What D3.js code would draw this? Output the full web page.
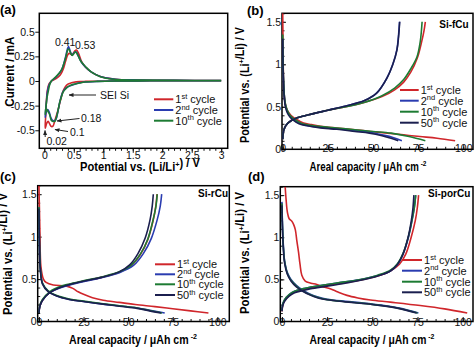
<!DOCTYPE html>
<html>
<head>
<meta charset="utf-8">
<script src="https://cdn.jsdelivr.net/npm/d3@7"></script>
<style>
body { margin: 0; background: #fff; }
svg text { font-family: "Liberation Sans", Arial, sans-serif; }
</style>
</head>
<body>
<div id="chart"></div>
<script>
// ---- data ----
var cvNums = ["1", "2", "10"];
var cvSups = ["st", "nd", "th"];
var gcdNums = ["1", "2", "10", "50"];
var gcdSups = ["st", "nd", "th", "th"];

// (a) CV, [potential V, current mA], in sweep order (cathodic then anodic)
var cv1st = [[3,0.004],[2.4,0.003],[1.8,0.002],[1.2,0.0],[0.9,-0.002],[0.7,-0.004],[0.6,-0.006],[0.5,-0.012],[0.45,-0.02],[0.4,-0.032],[0.36,-0.055],[0.32,-0.1],[0.29,-0.16],[0.26,-0.23],[0.23,-0.3],[0.2,-0.36],[0.17,-0.42],[0.15,-0.455],[0.12,-0.462],[0.09,-0.435],[0.065,-0.41],[0.04,-0.43],[0.015,-0.48],
  [0.022,-0.37],[0.035,-0.21],[0.05,-0.1],[0.08,-0.03],[0.12,0.0],[0.2,0.025],[0.27,0.06],[0.32,0.12],[0.36,0.2],[0.4,0.27],[0.43,0.28],[0.47,0.265],[0.51,0.3],[0.545,0.315],[0.58,0.28],[0.63,0.2],[0.7,0.14],[0.8,0.09],[0.95,0.045],[1.2,0.018],[1.6,0.01],[2.2,0.006],[3,0.005]];
var cv2nd = [[3,0.004],[2.4,0.003],[1.8,0.002],[1.2,0.0],[0.9,-0.004],[0.7,-0.01],[0.6,-0.018],[0.5,-0.035],[0.45,-0.045],[0.4,-0.06],[0.36,-0.075],[0.32,-0.105],[0.29,-0.15],[0.26,-0.22],[0.24,-0.28],[0.22,-0.34],[0.2,-0.385],[0.17,-0.405],[0.14,-0.4],[0.11,-0.37],[0.08,-0.31],[0.055,-0.29],[0.035,-0.31],[0.015,-0.37],
  [0.022,-0.3],[0.035,-0.22],[0.05,-0.12],[0.07,-0.06],[0.09,-0.03],[0.12,0.0],[0.2,0.04],[0.29,0.11],[0.35,0.22],[0.39,0.32],[0.41,0.35],[0.44,0.3],[0.47,0.265],[0.51,0.29],[0.54,0.295],[0.58,0.25],[0.63,0.19],[0.7,0.14],[0.8,0.09],[0.95,0.045],[1.2,0.018],[1.6,0.01],[2.2,0.006],[3,0.005]];
var cv10th = [[3,0.004],[2.4,0.003],[1.8,0.002],[1.2,0.0],[0.9,-0.004],[0.69,-0.01],[0.6,-0.02],[0.5,-0.033],[0.46,-0.04],[0.4,-0.058],[0.37,-0.075],[0.32,-0.11],[0.29,-0.16],[0.26,-0.22],[0.24,-0.28],[0.22,-0.335],[0.2,-0.38],[0.18,-0.41],[0.15,-0.41],[0.12,-0.4],[0.09,-0.34],[0.063,-0.31],[0.045,-0.29],[0.03,-0.3],[0.015,-0.34],
  [0.025,-0.28],[0.034,-0.23],[0.045,-0.17],[0.06,-0.125],[0.075,-0.08],[0.09,-0.04],[0.12,0.0],[0.2,0.045],[0.29,0.11],[0.35,0.21],[0.38,0.28],[0.405,0.325],[0.42,0.32],[0.445,0.285],[0.475,0.26],[0.51,0.285],[0.535,0.295],[0.57,0.26],[0.62,0.2],[0.7,0.145],[0.8,0.09],[0.95,0.044],[1.17,0.017],[1.6,0.01],[2.2,0.006],[3,0.005]];

// (b) Si-fCu, [capacity uAh cm-2, potential V]
var fCu1Dis = [[0,1.6],[0.2,1.2],[0.4,0.85],[0.8,0.65],[1.5,0.53],[2.5,0.46],[4.5,0.4],[7,0.36],[11.5,0.31],[16,0.29],[21,0.27],[30,0.25],[40,0.23],[48.5,0.21],[58,0.19],[67,0.17],[76,0.15],[85.5,0.13],[95.5,0.1]];
var fCu2Dis = [[0,1.3],[0.3,0.9],[0.8,0.65],[1.5,0.52],[2.5,0.45],[4,0.39],[6,0.35],[9,0.31],[13,0.28],[20,0.26],[30,0.24],[40,0.22],[48,0.2],[55,0.17],[61,0.14],[66,0.1]];
var fCu10Dis = [[0,1.35],[0.3,0.92],[0.8,0.66],[1.5,0.53],[2.5,0.46],[4,0.4],[6,0.36],[9,0.32],[13,0.29],[20,0.27],[30,0.25],[40,0.23],[50,0.21],[60,0.19],[70,0.15],[79,0.1]];
var fCu50Dis = [[0,1.3],[0.3,0.85],[0.8,0.62],[1.5,0.5],[2.5,0.43],[4,0.38],[6,0.34],[9,0.3],[13,0.28],[20,0.255],[30,0.235],[40,0.21],[48,0.19],[55,0.16],[60,0.13],[64,0.1]];
var fCu1Ch = [[0,0.12],[0.3,0.2],[1,0.25],[3,0.31],[8,0.37],[17,0.42],[25,0.46],[35,0.5],[45,0.55],[55,0.62],[62,0.7],[67,0.79],[71,0.91],[74.5,1.07],[77,1.27],[78.3,1.4],[79,1.5]];
var fCu2Ch = [[0,0.12],[0.3,0.2],[1,0.25],[3,0.31],[8,0.37],[17,0.42],[25,0.46],[35,0.51],[45,0.57],[52,0.66],[57.5,0.83],[61,1.0],[63.2,1.17],[64.1,1.33],[64.7,1.5]];
var fCu10Ch = [[0,0.12],[0.3,0.2],[1,0.25],[3,0.31],[8,0.37],[17,0.42],[25,0.46],[35,0.5],[45,0.55],[55,0.63],[62,0.72],[67,0.82],[71,0.95],[74.4,1.09],[76.2,1.27],[77.2,1.5]];
var fCu50Ch = [[0,0.12],[0.3,0.2],[1,0.25],[3,0.31],[8,0.37],[17,0.42],[25,0.46],[35,0.51],[45,0.57],[52,0.66],[57.8,0.84],[61,1.0],[63.3,1.17],[64.2,1.33],[64.8,1.5]];

// (c) Si-rCu
var rCu1Dis = [[0,1.6],[0.3,1.3],[0.6,1.0],[1.1,0.65],[2.5,0.5],[4,0.46],[8,0.43],[15,0.42],[19,0.39],[22,0.35],[25,0.32],[30,0.28],[36,0.25],[45,0.225],[54,0.2],[65,0.175],[75,0.15],[85,0.125],[95,0.1]];
var rCu2Dis = [[0,1.35],[0.3,0.9],[0.8,0.62],[2,0.45],[5,0.36],[10,0.3],[17,0.26],[25,0.235],[36,0.205],[45,0.185],[55,0.16],[63,0.13],[70.5,0.1]];
var rCu10Dis = [[0,1.35],[0.3,0.9],[0.8,0.62],[2,0.45],[5,0.365],[10,0.305],[17,0.265],[25,0.24],[36,0.21],[45,0.185],[55,0.16],[62,0.13],[69,0.1]];
var rCu50Dis = [[0,1.33],[0.3,0.88],[0.8,0.6],[2,0.44],[5,0.355],[10,0.3],[17,0.26],[25,0.235],[36,0.205],[45,0.18],[55,0.155],[62,0.125],[68.5,0.1]];
var rCu1Ch = [[0,0.1],[0.5,0.18],[2,0.25],[6,0.34],[13,0.41],[20,0.45],[26,0.48],[35,0.52],[45,0.58],[52,0.665],[57,0.795],[61,0.965],[64,1.19],[65.5,1.36],[66.2,1.5]];
var rCu2Ch = [[0,0.1],[0.5,0.18],[2,0.25],[6,0.34],[13,0.405],[20,0.445],[26,0.475],[35,0.515],[45,0.575],[53,0.66],[58.5,0.8],[63,0.98],[66.3,1.2],[68,1.36],[68.8,1.5]];
var rCu10Ch = [[0,0.1],[0.5,0.19],[2,0.26],[6,0.35],[13,0.42],[20,0.455],[26,0.485],[35,0.525],[45,0.585],[52,0.67],[57,0.8],[61,0.97],[64,1.2],[65.6,1.36],[66.3,1.5]];
var rCu50Ch = [[0,0.1],[0.5,0.18],[2,0.25],[6,0.34],[13,0.41],[20,0.45],[26,0.48],[35,0.52],[45,0.585],[51,0.67],[55.5,0.8],[59.5,0.98],[62.3,1.2],[63.5,1.36],[64.1,1.5]];

// (d) Si-porCu
var porCu1Dis = [[1.8,1.6],[2.3,1.45],[3,1.3],[4,1.22],[5.5,1.19],[6.5,1.15],[7.4,1.09],[8.3,0.95],[9.2,0.82],[10,0.68],[11,0.55],[12.9,0.48],[16,0.455],[19.3,0.44],[23,0.41],[26.7,0.39],[31,0.35],[36,0.31],[42,0.28],[49,0.255],[60,0.23],[76.5,0.19],[90,0.15],[102.5,0.1]];
var porCu2Dis = [[0,1.42],[0.3,1.15],[0.8,0.9],[1.5,0.72],[3,0.58],[5,0.5],[8,0.43],[11,0.38],[16,0.32],[20,0.29],[25,0.265],[35,0.24],[45,0.22],[55,0.195],[65,0.16],[75.5,0.1]];
var porCu10Dis = [[0,1.4],[0.3,1.13],[0.8,0.88],[1.5,0.71],[3,0.57],[5,0.49],[8,0.42],[11,0.37],[16,0.315],[20,0.285],[25,0.26],[35,0.235],[45,0.215],[55,0.19],[65,0.155],[75,0.1]];
var porCu50Dis = [[0,1.38],[0.3,1.1],[0.8,0.86],[1.5,0.69],[3,0.56],[5,0.48],[8,0.41],[11,0.365],[16,0.31],[20,0.28],[25,0.258],[35,0.233],[45,0.213],[55,0.188],[65,0.153],[74.5,0.1]];
var porCu1Ch = [[0,0.12],[0.5,0.2],[1.5,0.25],[4,0.31],[7,0.35],[12,0.38],[16,0.4],[25,0.43],[35,0.46],[45,0.5],[53,0.54],[60,0.6],[65,0.68],[68.5,0.8],[71.5,1.0],[73.8,1.2],[74.9,1.35],[75.6,1.5]];
var porCu2Ch = [[0,0.13],[0.5,0.21],[1.5,0.26],[4,0.32],[7,0.36],[12,0.39],[16,0.41],[25,0.44],[35,0.47],[45,0.505],[53,0.545],[60,0.6],[64,0.68],[67,0.8],[70,1.0],[72,1.2],[73.2,1.35],[74,1.5]];
var porCu10Ch = [[0,0.13],[0.5,0.21],[1.5,0.26],[4,0.32],[7,0.36],[12,0.39],[16,0.41],[25,0.44],[35,0.47],[45,0.505],[53,0.55],[60,0.61],[64,0.69],[67,0.81],[70,1.01],[72,1.21],[73.3,1.36],[74,1.5]];
var porCu50Ch = [[0,0.12],[0.5,0.19],[1.5,0.24],[4,0.3],[7,0.34],[12,0.37],[16,0.39],[25,0.42],[35,0.455],[45,0.495],[53,0.54],[60,0.6],[64,0.68],[67,0.8],[69.8,1.0],[71.6,1.2],[72.5,1.35],[73,1.5]];

var cvTicksX = [0, 0.5, 1, 1.5, 2, 2.5, 3];
var cvTicksY = [-0.5, -0.25, 0, 0.25, 0.5];
var capTicks = [0, 25, 50, 75, 100];
var potTicks = [0, 0.5, 1, 1.5];

var colors = ["#d0262b", "#2a3cb0", "#1d7b33", "#1b1f4f"];

// ---- drawing ----
var svg = d3.select("#chart")
    .append("svg")
    .attr("width", 474)
    .attr("height", 349)

svg.append("defs").append("marker")
    .attr("id", "arrow")
    .attr("viewBox", "0 0 10 10")
    .attr("refX", 9).attr("refY", 5)
    .attr("markerWidth", 5).attr("markerHeight", 5)
    .attr("orient", "auto")
    .append("path")
    .attr("d", "M0,1 L10,5 L0,9 z")
    .attr("fill", "#222")

var fmt = function(d) { return String(d); }

function panel(p) {
    var x = d3.scaleLinear().domain(p.xd).range([p.left, p.right]);
    var y = d3.scaleLinear().domain(p.yd).range([p.bottom, p.top]);
    var g = svg.append("g");

    g.append("clipPath").attr("id", p.id)
        .append("rect")
        .attr("x", p.left).attr("y", p.top)
        .attr("width", p.right - p.left).attr("height", p.bottom - p.top);

    var s = p.inward ? -1 : 1;
    // minor ticks
    g.append("g")
        .attr("transform", "translate(0," + p.bottom + ")")
        .call(d3.axisBottom(x).tickValues(p.xMinor).tickSize(2.5 * s).tickFormat(""))
        .call(function(a) { a.select(".domain").remove(); });
    if (p.yMinor) {
        g.append("g")
            .attr("transform", "translate(" + p.left + ",0)")
            .call(d3.axisLeft(y).tickValues(p.yMinor).tickSize(2.5 * s).tickFormat(""))
            .call(function(a) { a.select(".domain").remove(); });
    }
    // major ticks + labels
    var xa = g.append("g")
        .attr("transform", "translate(0," + p.bottom + ")")
        .call(d3.axisBottom(x).tickValues(p.xTicks).tickSize(4.5 * s).tickPadding(p.xPad).tickFormat(fmt));
    var ya = g.append("g")
        .attr("transform", "translate(" + p.left + ",0)")
        .call(d3.axisLeft(y).tickValues(p.yTicks).tickSize(4 * s).tickPadding(p.yPad).tickFormat(fmt));
    [xa, ya].forEach(function(a) {
        a.select(".domain").remove();
        a.attr("font-family", null).attr("font-size", null);
        a.selectAll("text").style("font-size", "10.5px").attr("fill", "#111");
    });
    g.selectAll(".tick line").attr("stroke", "#111");

    g.append("rect")
        .attr("x", p.left).attr("y", p.top)
        .attr("width", p.right - p.left).attr("height", p.bottom - p.top)
        .attr("fill", "none").attr("stroke", "#000").attr("stroke-width", 1.5);

    var curves = g.append("g").attr("clip-path", "url(#" + p.id + ")");
    var line = d3.line()
        .x(function(d) { return x(d[0]); })
        .y(function(d) { return y(d[1]); })
        .curve(d3.curveCatmullRom.alpha(0.5));
    p.series.forEach(function(s) {
        curves.append("path")
            .datum(s.data)
            .attr("d", line)
            .attr("fill", "none")
            .attr("stroke", s.color)
            .attr("stroke-width", 1.6);
    });
    return { g: g, x: x, y: y };
}

function title(cx, cy, rot, parts, w) {
    var t = svg.append("g")
        .attr("transform", "translate(" + cx + "," + cy + ") rotate(" + rot + ")")
        .append("text")
        .attr("text-anchor", "middle")
        .attr("dy", "0.35em")
        .style("font-size", "12px")
        .style("font-weight", "bold");
    parts.forEach(function(p) {
        if (p[1]) {
            t.append("tspan").attr("dy", -4.5).style("font-size", "8px").text(p[0]);
            t.append("tspan").attr("dy", 4.5).text("");
        } else {
            t.append("tspan").text(p[0]);
        }
    });
    var len = t.node().getComputedTextLength();
    if (w && len > 0) t.attr("transform", "scale(" + (w / len) + ",1)");
}

function legend(xa, xb, ys, nums, sups, cols) {
    ys.forEach(function(yy, i) {
        svg.append("line")
            .attr("x1", xa).attr("x2", xb).attr("y1", yy).attr("y2", yy)
            .attr("stroke", cols[i]).attr("stroke-width", 2);
        var t = svg.append("text").attr("x", xb + 2).attr("y", yy + 4).style("font-size", "11px").attr("fill", "#111");
        t.append("tspan").text(nums[i]);
        t.append("tspan").attr("dy", -4.5).style("font-size", "7.5px").text(sups[i]);
        t.append("tspan").attr("dy", 4.5).text(" cycle");
    });
}

function letter(x, y, s) {
    svg.append("text").attr("x", x).attr("y", y)
        .style("font-size", "13px").style("font-weight", "bold").text(s);
}

function tag(xr, y, s) {
    svg.append("text").attr("x", xr).attr("y", y).attr("text-anchor", "end")
        .style("font-size", "10px").style("font-weight", "bold").text(s);
}

var minorCV = d3.range(0, 3.01, 0.1).map(function(d) { return +d.toFixed(1); });
var minorCap = d3.range(0, 105, 5);
var minorPot = d3.range(0, 1.61, 0.1).map(function(d) { return +d.toFixed(1); });

// (a)
panel({
    id: "clipA", left: 39.3, right: 227.7, top: 13.3, bottom: 148.3,
    xd: [-0.085, 3.11], yd: [-0.683, 0.687],
    xTicks: cvTicksX, yTicks: cvTicksY, xMinor: minorCV, yMinor: null,
    inward: false, xPad: -1.5, yPad: 0.5,
    series: [
        { data: cv1st, color: colors[0] },
        { data: cv2nd, color: colors[1] },
        { data: cv10th, color: colors[2] }
    ]
});

// (b)
panel({
    id: "clipB", left: 282, right: 473, top: 13.3, bottom: 149.3,
    xd: [-0.4, 105.4], yd: [0, 1.6],
    xTicks: capTicks, yTicks: potTicks, xMinor: minorCap, yMinor: minorPot,
    inward: true, xPad: -5, yPad: 1,
    series: [
        { data: fCu1Dis, color: colors[0] }, { data: fCu1Ch, color: colors[0] },
        { data: fCu2Dis, color: colors[1] }, { data: fCu2Ch, color: colors[1] },
        { data: fCu10Dis, color: colors[2] }, { data: fCu10Ch, color: colors[2] },
        { data: fCu50Dis, color: colors[3] }, { data: fCu50Ch, color: colors[3] }
    ]
});

// (c)
panel({
    id: "clipC", left: 37.7, right: 229.3, top: 185.7, bottom: 321.5,
    xd: [-0.7, 106.7], yd: [0, 1.6],
    xTicks: capTicks, yTicks: potTicks, xMinor: minorCap, yMinor: minorPot,
    inward: true, xPad: -2.5, yPad: 1,
    series: [
        { data: rCu1Dis, color: colors[0] }, { data: rCu1Ch, color: colors[0] },
        { data: rCu2Dis, color: colors[1] }, { data: rCu2Ch, color: colors[1] },
        { data: rCu10Dis, color: colors[2] }, { data: rCu10Ch, color: colors[2] },
        { data: rCu50Dis, color: colors[3] }, { data: rCu50Ch, color: colors[3] }
    ]
});

// (d)
panel({
    id: "clipD", left: 280.3, right: 473, top: 186.7, bottom: 321.5,
    xd: [-0.9, 105.7], yd: [0, 1.6],
    xTicks: capTicks, yTicks: potTicks, xMinor: minorCap, yMinor: minorPot,
    inward: true, xPad: -2.5, yPad: 1,
    series: [
        { data: porCu1Dis, color: colors[0] }, { data: porCu1Ch, color: colors[0] },
        { data: porCu2Dis, color: colors[1] }, { data: porCu2Ch, color: colors[1] },
        { data: porCu10Dis, color: colors[2] }, { data: porCu10Ch, color: colors[2] },
        { data: porCu50Dis, color: colors[3] }, { data: porCu50Ch, color: colors[3] }
    ]
});

// annotations in (a)
function note(s, x, y) {
    svg.append("text").attr("x", x).attr("y", y).style("font-size", "10.5px").attr("fill", "#111").text(s);
}
function arrow(x1, y1, x2, y2) {
    svg.append("line")
        .attr("x1", x1).attr("y1", y1).attr("x2", x2).attr("y2", y2)
        .attr("stroke", "#222").attr("stroke-width", 1)
        .attr("marker-end", "url(#arrow)");
}
note("0.41", 55, 45.5);
note("0.53", 75, 48.5);
note("SEI Si", 100, 98.5);
arrow(96, 95, 69, 95);
note("0.18", 81, 122);
arrow(79.5, 118.5, 57, 121);
note("0.1", 70, 135.5);
arrow(68, 131.5, 55, 129.5);
note("0.02", 46.5, 144.5);
arrow(45.2, 137, 45, 130.5);

legend(154, 173.3, [99.3, 110, 120.7], cvNums, cvSups, colors);
legend(400, 418.7, [90, 100.7, 111.7, 122.7], gcdNums, gcdSups, colors);
legend(155, 175, [264.3, 274.3, 284.3, 295], gcdNums, gcdSups, colors);
legend(402, 422, [260, 270.7, 281.7, 292.3], gcdNums, gcdSups, colors);

tag(468.7, 28, "Si-fCu");
tag(228, 197, "Si-rCu");
tag(470.3, 197, "Si-porCu");

letter(0, 14, "(a)");
letter(247, 15, "(b)");
letter(0, 181, "(c)");
letter(248, 181, "(d)");

var potA = [["Potential vs. (Li/Li"], ["+", true], [") / V"]];
var potB = [["Potential vs. (Li"], ["+", true], ["/Li) / V"]];
var capT = [["Areal capacity / \u03bcAh cm"], [" -2", true]];

title(9.3, 71.7, -90, [["Current / mA"]], 70);
title(140, 167, 0, potA, 120);
title(244.3, 85, -90, potB, 116);
title(368, 166.7, 0, capT, 117);
title(7.3, 254, -90, potB, 122);
title(133, 339.3, 0, capT, 128);
title(244.3, 253, -90, potB, 122);
title(372, 339.3, 0, capT, 125);
</script>
</body>
</html>
